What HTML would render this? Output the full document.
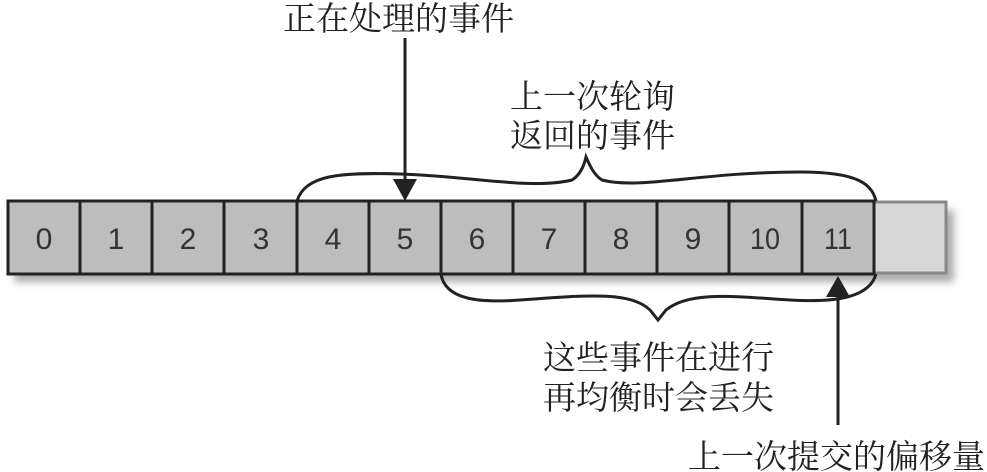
<!DOCTYPE html>
<html><head><meta charset="utf-8"><style>
html,body{margin:0;padding:0;background:#fff;width:987px;height:472px;overflow:hidden}
svg{display:block}
.c{font-family:"Liberation Serif","Noto Serif CJK SC",serif;font-size:33px;fill:#222}
.n{font-family:"Liberation Sans",sans-serif;font-size:30px;fill:#333}
</style></head><body>
<svg width="987" height="472" viewBox="0 0 987 472">
<defs><filter id="sh" x="-5%" y="-30%" width="110%" height="180%"><feGaussianBlur stdDeviation="4"/></filter></defs>
<rect x="14" y="210" width="940" height="72" fill="#999" filter="url(#sh)" opacity="0.8"/>
<rect x="874" y="202" width="72" height="71" fill="#d7d7d7" stroke="#888" stroke-width="3"/>
<rect x="8" y="201" width="866" height="73" fill="#bdbdbd" stroke="#222" stroke-width="3"/>
<g stroke="#222" stroke-width="3">
<line x1="80" y1="201" x2="80" y2="274"/><line x1="152" y1="201" x2="152" y2="274"/>
<line x1="224" y1="201" x2="224" y2="274"/><line x1="297" y1="201" x2="297" y2="274"/>
<line x1="369" y1="201" x2="369" y2="274"/><line x1="441" y1="201" x2="441" y2="274"/>
<line x1="513" y1="201" x2="513" y2="274"/><line x1="585" y1="201" x2="585" y2="274"/>
<line x1="657" y1="201" x2="657" y2="274"/><line x1="729" y1="201" x2="729" y2="274"/>
<line x1="802" y1="201" x2="802" y2="274"/>
</g>
<g class="n" text-anchor="middle">
<g transform="translate(0,249) scale(1,1)">
<text x="44">0</text><text x="116">1</text><text x="188">2</text>
<text x="261">3</text><text x="333">4</text><text x="405">5</text>
<text x="477">6</text><text x="549">7</text><text x="621">8</text>
<text x="693">9</text><text x="765" textLength="30" lengthAdjust="spacingAndGlyphs">10</text><text x="838" textLength="28" lengthAdjust="spacingAndGlyphs">11</text>
</g>
</g>
<g fill="none" stroke="#222" stroke-width="3">
<path d="M297 201 C305 175 340 172 400 174 C470 176 530 190 572 180 C580 175 584 166 586 157 C590 166 594 175 602 180 C640 190 700 172 800 172 C860 172 872 185 876 201"/>
<path d="M441 274 C445 300 480 303 520 300 C580 296 630 290 650 310 L658 320 L666 310 C690 290 740 297 790 300 C840 303 870 296 876 274"/>
<line x1="405" y1="38" x2="405" y2="182"/>
<line x1="838" y1="294" x2="838" y2="425"/>
</g>
<path d="M393 179 L417 179 L405 201 Z" fill="#222"/>
<path d="M826 297 L850 297 L838 276 Z" fill="#222"/>
<g class="c">
<text x="283" y="30">正在处理的事件</text>
<text x="510" y="108">上一次轮询</text>
<text x="510" y="147">返回的事件</text>
<text x="543" y="369">这些事件在进行</text>
<text x="543" y="409">再均衡时会丢失</text>
<text x="688" y="468">上一次提交的偏移量</text>
</g>
</svg>
</body></html>
